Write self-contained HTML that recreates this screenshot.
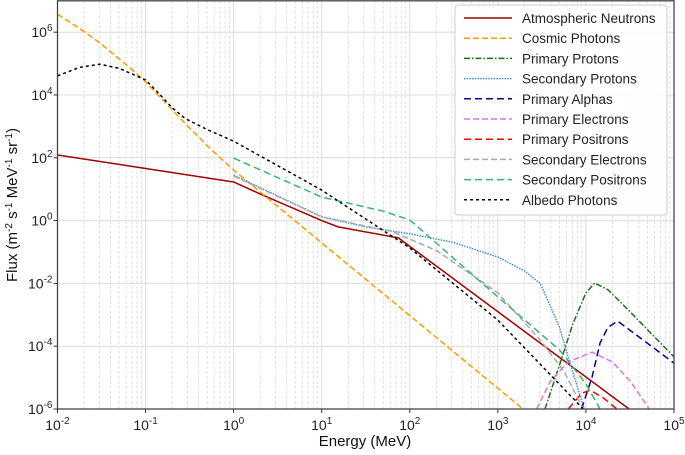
<!DOCTYPE html>
<html><head><meta charset="utf-8"><style>
body{margin:0;background:#fff;}
svg text{font-family:"Liberation Sans","DejaVu Sans",sans-serif;}
</style></head><body>
<svg id="chart" width="685" height="450" viewBox="0 0 685 450" xmlns="http://www.w3.org/2000/svg"></svg>
<script>
const xTickExps=[-2,-1,0,1,2,3,4,5];
const yTickExps=[-6,-4,-2,0,2,4,6];
const atmNeutrons=[[-2,2.09],[0,1.23],[0.3,0.85],[1.0,0.0],[1.185,-0.2],[1.87,-0.55],[4.49,-6]];
const cosmicPhotons=[[-2,6.57],[-1.75,6.12],[-1.52,5.66],[-1.3,5.15],[-1.15,4.8],[-1,4.42],[-0.75,3.68],[-0.5,2.95],[-0.25,2.25],[0,1.61],[1,-0.71],[3.285,-6]];
const primaryProtons=[[3.535,-6],[3.7,-4.6],[3.85,-3.3],[4.0,-2.3],[4.1,-1.99],[4.25,-2.2],[4.5,-2.9],[5,-4.34]];
const secondaryProtons=[[0,1.45],[1,0.12],[1.5,-0.2],[2,-0.42],[2.5,-0.7],[3,-1.16],[3.3,-1.6],[3.48,-2.0],[3.6,-2.75],[3.7,-3.4],[3.82,-4.54],[3.98,-6]];
const primaryAlphas=[[3.95,-6],[4.07,-4.98],[4.16,-3.9],[4.25,-3.4],[4.36,-3.2],[4.6,-3.7],[5,-4.54]];
const primaryElectrons=[[3.44,-6],[3.6,-5.1],[3.8,-4.5],[4.07,-4.19],[4.3,-4.5],[4.5,-5.1],[4.72,-6]];
const primaryPositrons=[[3.8,-6],[3.95,-5.5],[4.05,-5.4],[4.2,-5.65],[4.35,-6]];
const secondaryElectrons=[[0,1.42],[1,0.12],[1.8,-0.35],[2.3,-0.95],[3,-2.3],[3.48,-3.8],[3.75,-4.8],[3.97,-6]];
const secondaryPositrons=[[0,1.99],[1,0.75],[1.7,0.3],[2,0.02],[3,-2.43],[3.7,-4.12],[4.0,-5.2],[4.16,-6]];
const albedoPhotons=[[-2,4.61],[-1.75,4.88],[-1.52,4.98],[-1.3,4.85],[-1,4.48],[-0.85,4.05],[-0.7,3.6],[-0.55,3.25],[-0.3,2.9],[0,2.53],[1,0.97],[2,-0.87],[3,-3.17],[3.97,-6]];
const seriesNames=["Atmospheric Neutrons","Cosmic Photons","Primary Protons","Secondary Protons","Primary Alphas","Primary Electrons","Primary Positrons","Secondary Electrons","Secondary Positrons","Albedo Photons"];

const NS="http://www.w3.org/2000/svg";
const svg=document.getElementById('chart');
const L=57.5,R=674,T=0.8,B=409,xmin=-2,xmax=5,ymin=-6,ymax=7;
const X=v=>L+(v-xmin)/(xmax-xmin)*(R-L);
const Y=v=>B-(v-ymin)/(ymax-ymin)*(B-T);
function mk(t,a,p){const e=document.createElementNS(NS,t);for(const k in a)e.setAttribute(k,a[k]);(p||svg).appendChild(e);return e;}
const defs=mk('defs',{});const cp=mk('clipPath',{id:'cp'},defs);mk('rect',{x:L,y:T,width:R-L,height:B-T},cp);
const grid=mk('g',{});


for(let d=xmin;d<xmax;d++)for(let m=2;m<=9;m++){const x=X(d+Math.log10(m));mk('line',{x1:x,x2:x,y1:T,y2:B,stroke:'#d8d8d8','stroke-width':0.8,'stroke-dasharray':'3,2'},grid);}
xTickExps.forEach(e=>{mk('line',{x1:X(e),x2:X(e),y1:T,y2:B,stroke:'#dcdcdc','stroke-width':1},grid);});
yTickExps.forEach(e=>{mk('line',{x1:L,x2:R,y1:Y(e),y2:Y(e),stroke:'#dcdcdc','stroke-width':1},grid);});
const styles=[
 {d:atmNeutrons,c:'#a00000',da:'',w:1.5},
 {d:cosmicPhotons,c:'#ff9a00',da:'6,3',w:1.5},
 {d:primaryProtons,c:'#1a6e1a',da:'6,2,1.5,2',w:1.5},
 {d:secondaryProtons,c:'#3f8fd0',da:'1.5,1.2',w:1.5},
 {d:primaryAlphas,c:'#000090',da:'7,4',w:1.5},
 {d:primaryElectrons,c:'#dd77dd',da:'6,3',w:1.5},
 {d:primaryPositrons,c:'#ff0000',da:'7,4',w:1.5},
 {d:secondaryElectrons,c:'#aaaaaa',da:'6,3',w:1.5},
 {d:secondaryPositrons,c:'#3cb371',da:'7,4',w:1.5},
 {d:albedoPhotons,c:'#000000',da:'3,3',w:1.5}];
const plot=mk('g',{'clip-path':'url(#cp)'});
styles.forEach((s,i)=>{const p=mk('polyline',{points:s.d.map(q=>X(q[0])+','+Y(q[1])).join(' '),fill:'none',stroke:s.c,'stroke-width':s.w,'stroke-dasharray':s.da,'stroke-linejoin':'round'},plot);

});
const frame=mk('rect',{x:L,y:T,width:R-L,height:B-T,fill:'none',stroke:'#444','stroke-width':1.3});


xTickExps.forEach(e=>{mk('line',{x1:X(e),x2:X(e),y1:B,y2:B+4,stroke:'#333'});
const t=mk('text',{x:X(e),y:430,'font-size':14,'text-anchor':'middle',fill:'#222'});t.innerHTML='10<tspan dy="-6" font-size="10">'+e+'</tspan>';

});
yTickExps.forEach(e=>{mk('line',{x1:L-4,x2:L,y1:Y(e),y2:Y(e),stroke:'#333'});
const t=mk('text',{x:L-5,y:Y(e)+5,'font-size':14,'text-anchor':'end',fill:'#222'});t.innerHTML='10<tspan dy="-6" font-size="10">'+e+'</tspan>';

});
const xt=mk('text',{x:365,y:446,'font-size':15,'text-anchor':'middle',fill:'#111'});xt.textContent='Energy (MeV)';


const yt=mk('text',{x:0,y:0,'font-size':15,'text-anchor':'middle',fill:'#111',transform:'translate(17,205) rotate(-90)'});
yt.innerHTML='Flux (m<tspan dy="-5" font-size="10">-2</tspan><tspan dy="5"> s</tspan><tspan dy="-5" font-size="10">-1</tspan><tspan dy="5"> MeV</tspan><tspan dy="-5" font-size="10">-1</tspan><tspan dy="5"> sr</tspan><tspan dy="-5" font-size="10">-1</tspan><tspan dy="5">)</tspan>';


const lg=mk('g',{});


mk('rect',{x:455,y:5,width:212,height:210,rx:3,fill:'#fff','fill-opacity':0.85,stroke:'#ccc'},lg);
styles.forEach((s,i)=>{const y=18+i*20.2;const g=mk('g',{},lg);


mk('line',{x1:464,x2:512,y1:y,y2:y,stroke:s.c,'stroke-width':1.5,'stroke-dasharray':s.da},g);
const t=mk('text',{x:522,y:y+5,'font-size':13.5,fill:'#222'},g);t.textContent=seriesNames[i];});
</script>
</body></html>
